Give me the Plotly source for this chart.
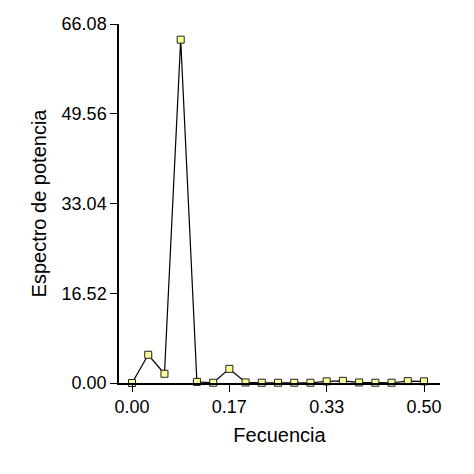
import plotly.graph_objects as go

freq = [k / 36 for k in range(19)]
power = [0.0, 5.2, 1.7, 63.2, 0.2, 0.05, 2.6, 0.1, 0.05, 0.05, 0.05, 0.05,
         0.3, 0.4, 0.1, 0.05, 0.05, 0.35, 0.3]
xticks = [0.0, 1/6, 1/3, 0.5]
xlabels = ["0.00", "0.17", "0.33", "0.50"]
yticks = [0.0, 16.52, 33.04, 49.56, 66.08]
ylabels = ["0.00", "16.52", "33.04", "49.56", "66.08"]

fig = go.Figure()
fig.add_trace(go.Scatter(
    x=freq, y=power, mode="lines+markers", cliponaxis=False,
    line=dict(color="black", width=1.2),
    marker=dict(symbol="square", size=7, color="#ffff99",
                line=dict(color="#222222", width=1)),
    showlegend=False,
))

font = "Liberation Sans, Arial, sans-serif"
fig.update_layout(
    width=474, height=474,
    margin=dict(l=119, r=34, t=24, b=91),
    paper_bgcolor="white", plot_bgcolor="white",
    font=dict(family=font, size=18, color="black"),
    xaxis=dict(range=[-0.0223, 0.5274], tickvals=xticks, ticktext=xlabels,
               showgrid=False, zeroline=False, showline=True, linecolor="black",
               linewidth=1.5, ticks="outside", ticklen=7, tickcolor="black",
               tickfont=dict(size=18),
               title=dict(text="Fecuencia", font=dict(size=20), standoff=12)),
    yaxis=dict(range=[0, 66.08], tickvals=yticks, ticktext=ylabels,
               showgrid=False, zeroline=False, showline=True, linecolor="black",
               linewidth=1.5, ticks="outside", ticklen=7, tickcolor="black",
               tickfont=dict(size=18),
               title=dict(text="Espectro de potencia", font=dict(size=20), standoff=10)),
)

fig.write_html("out.html")
